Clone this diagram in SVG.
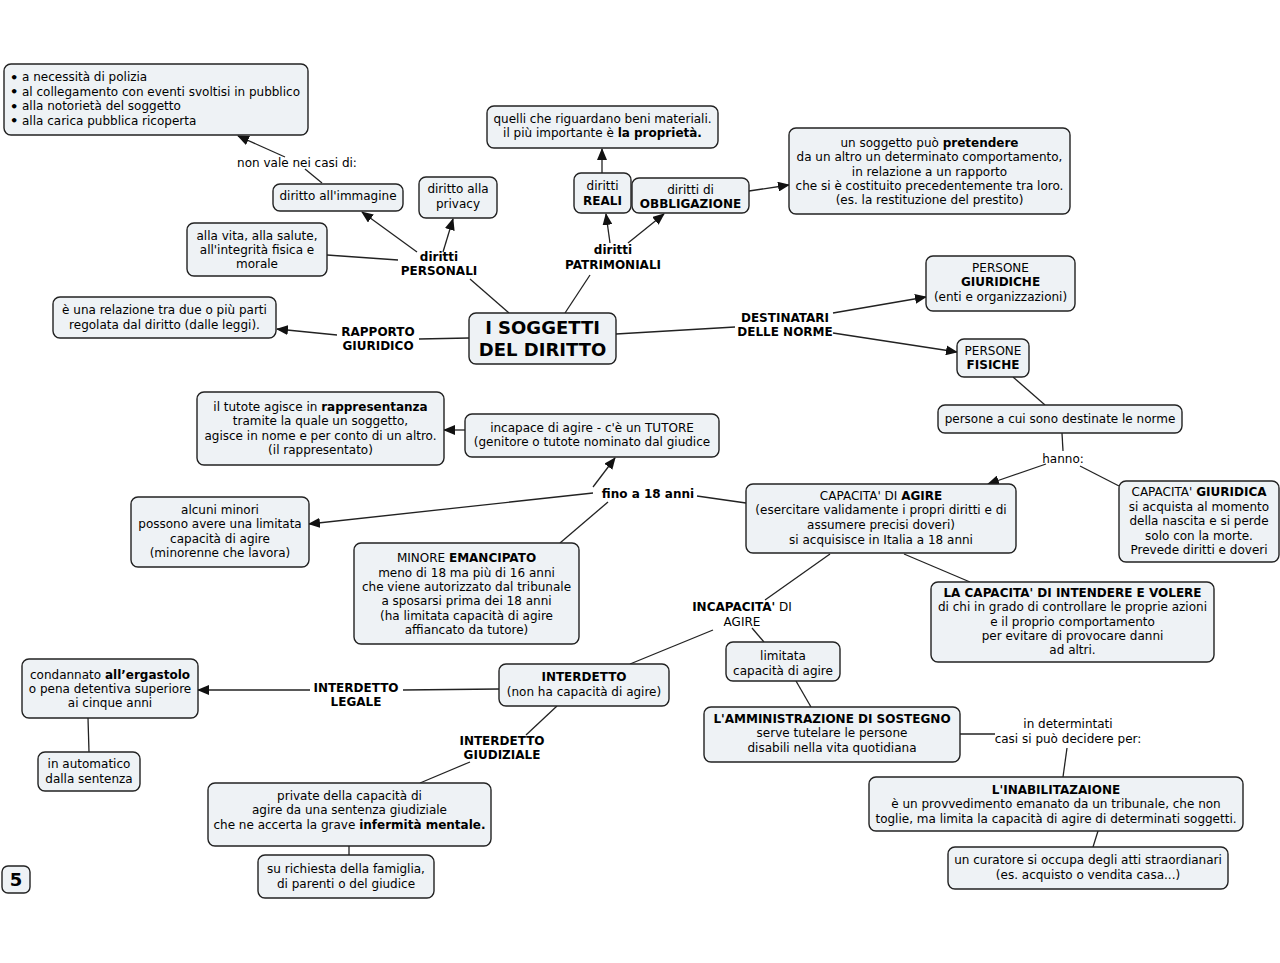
<svg xmlns="http://www.w3.org/2000/svg" width="1280" height="963" viewBox="0 0 1280 963">
<defs>
<marker id="ah" viewBox="0 0 12 10" refX="11" refY="5" markerWidth="12" markerHeight="10" markerUnits="userSpaceOnUse" orient="auto">
<path d="M0,0 L12,5 L0,10 z" fill="#111"/>
</marker>
<style>
text{font-family:"DejaVu Sans","Verdana",sans-serif;font-size:12px;fill:#000}
.c{text-anchor:middle}
.b{font-weight:bold}
.t{font-size:18px;font-weight:bold}
.bul{font-size:13px;font-weight:bold}
rect{fill:#eef2f5;stroke:#222;stroke-width:1.4}
#connectors line{stroke:#222;stroke-width:1.3;fill:none}
.a{marker-end:url(#ah)}
</style>
</defs>
<rect x="0" y="0" width="1280" height="963" style="fill:#fff;stroke:none"/>

<g id="connectors">
<line x1="509" y1="313" x2="470" y2="279"/>
<line x1="398" y1="260" x2="327" y2="255"/>
<line class="a" x1="417" y1="252" x2="362" y2="212"/>
<line class="a" x1="443" y1="252" x2="453" y2="219"/>
<line x1="322" y1="183" x2="305" y2="169"/>
<line class="a" x1="285" y1="157" x2="238" y2="136"/>
<line x1="469" y1="338" x2="419" y2="339"/>
<line class="a" x1="337" y1="335" x2="277" y2="329"/>
<line x1="565" y1="313" x2="590" y2="275"/>
<line class="a" x1="610" y1="243" x2="606" y2="214"/>
<line class="a" x1="628" y1="243" x2="664" y2="214"/>
<line class="a" x1="602" y1="173" x2="602" y2="149"/>
<line class="a" x1="749" y1="191" x2="789" y2="185"/>
<line x1="616" y1="334" x2="735" y2="327"/>
<line class="a" x1="833" y1="313" x2="926" y2="297"/>
<line class="a" x1="833" y1="333" x2="957" y2="352"/>
<line x1="1013" y1="377" x2="1045" y2="405"/>
<line x1="1062" y1="433" x2="1063" y2="451"/>
<line class="a" x1="1046" y1="464" x2="988" y2="484"/>
<line x1="1080" y1="466" x2="1119" y2="486"/>
<line x1="746" y1="503" x2="697" y2="496"/>
<line class="a" x1="593" y1="487" x2="615" y2="458"/>
<line class="a" x1="593" y1="493" x2="309" y2="524"/>
<line x1="608" y1="502" x2="560" y2="543"/>
<line class="a" x1="465" y1="430" x2="444" y2="430"/>
<line x1="830" y1="554" x2="765" y2="600"/>
<line x1="904" y1="554" x2="970" y2="582"/>
<line x1="713" y1="630" x2="630" y2="664"/>
<line x1="752" y1="628" x2="764" y2="642"/>
<line x1="796" y1="681" x2="811" y2="707"/>
<line x1="499" y1="689" x2="403" y2="690"/>
<line class="a" x1="310" y1="690" x2="198" y2="690"/>
<line x1="88" y1="718" x2="89" y2="752"/>
<line x1="557" y1="706" x2="526" y2="735"/>
<line x1="470" y1="762" x2="420" y2="783"/>
<line x1="349" y1="846" x2="349" y2="855"/>
<line x1="960" y1="734" x2="995" y2="734"/>
<line x1="1067" y1="748" x2="1063" y2="777"/>
<line x1="1098" y1="831" x2="1093" y2="847"/>
</g>

<g id="n-casi">
<rect x="4" y="64" width="304" height="71" rx="7"/>
<text class="bul" x="10" y="81.5">•</text><text x="22" y="81">a necessità di polizia</text>
<text class="bul" x="10" y="96">•</text><text x="22" y="95.5">al collegamento con eventi svoltisi in pubblico</text>
<text class="bul" x="10" y="110.5">•</text><text x="22" y="110">alla notorietà del soggetto</text>
<text class="bul" x="10" y="125">•</text><text x="22" y="124.5">alla carica pubblica ricoperta</text>
</g>
<g id="l-nonvale"><text class="c" x="297" y="167">non vale nei casi di:</text></g>
<g id="n-immagine">
<rect x="273" y="184" width="130" height="27" rx="7"/>
<text class="c" x="338" y="200">diritto all'immagine</text>
</g>
<g id="n-privacy">
<rect x="419" y="177" width="78" height="41" rx="7"/>
<text class="c" x="458" y="193">diritto alla</text>
<text class="c" x="458" y="208">privacy</text>
</g>
<g id="n-vita">
<rect x="187" y="223" width="140" height="53" rx="7"/>
<text class="c" x="257" y="240">alla vita, alla salute,</text>
<text class="c" x="257" y="254">all'integrità fisica e</text>
<text class="c" x="257" y="268">morale</text>
</g>
<g id="l-personali">
<text class="c b" x="439" y="261">diritti</text>
<text class="c b" x="439" y="275">PERSONALI</text>
</g>
<g id="n-relazione">
<rect x="53" y="297" width="223" height="41" rx="7"/>
<text class="c" x="164.5" y="314">è una relazione tra due o più parti</text>
<text class="c" x="164.5" y="329">regolata dal diritto (dalle leggi).</text>
</g>
<g id="l-rapporto">
<text class="c b" x="378" y="336">RAPPORTO</text>
<text class="c b" x="378" y="350">GIURIDICO</text>
</g>
<g id="n-centro">
<rect x="469" y="313" width="147" height="51" rx="7"/>
<text class="c t" x="542.5" y="334">I SOGGETTI</text>
<text class="c t" x="542.5" y="356">DEL DIRITTO</text>
</g>
<g id="n-quelli">
<rect x="487" y="106" width="231" height="42" rx="7"/>
<text class="c" x="602.5" y="123">quelli che riguardano beni materiali.</text>
<text class="c" x="602.5" y="137">il più importante è <tspan class="b">la proprietà.</tspan></text>
</g>
<g id="n-reali">
<rect x="574" y="173" width="57" height="40" rx="7"/>
<text class="c" x="602.5" y="190">diritti</text>
<text class="c b" x="602.5" y="205">REALI</text>
</g>
<g id="n-obbligazione">
<rect x="632" y="178" width="117" height="35" rx="7"/>
<text class="c" x="690.5" y="194">diritti di</text>
<text class="c b" x="690.5" y="208">OBBLIGAZIONE</text>
</g>
<g id="l-patrimoniali">
<text class="c b" x="613" y="254">diritti</text>
<text class="c b" x="613" y="269">PATRIMONIALI</text>
</g>
<g id="n-pretendere">
<rect x="789" y="128" width="281" height="86" rx="7"/>
<text class="c" x="929.5" y="147">un soggetto può <tspan class="b">pretendere</tspan></text>
<text class="c" x="929.5" y="161">da un altro un determinato comportamento,</text>
<text class="c" x="929.5" y="175.5">in relazione a un rapporto</text>
<text class="c" x="929.5" y="190">che si è costituito precedentemente tra loro.</text>
<text class="c" x="929.5" y="204">(es. la restituzione del prestito)</text>
</g>
<g id="n-giuridiche">
<rect x="926" y="256" width="149" height="55" rx="7"/>
<text class="c" x="1000.5" y="272">PERSONE</text>
<text class="c b" x="1000.5" y="286">GIURIDICHE</text>
<text class="c" x="1000.5" y="301">(enti e organizzazioni)</text>
</g>
<g id="l-destinatari">
<text class="c b" x="785" y="322">DESTINATARI</text>
<text class="c b" x="785" y="336">DELLE NORME</text>
</g>
<g id="n-fisiche">
<rect x="957" y="339" width="72" height="38" rx="7"/>
<text class="c" x="993" y="355">PERSONE</text>
<text class="c b" x="993" y="369">FISICHE</text>
</g>
<g id="n-personeacui">
<rect x="938" y="405" width="244" height="28" rx="7"/>
<text class="c" x="1060" y="423">persone a cui sono destinate le norme</text>
</g>
<g id="l-hanno"><text class="c" x="1063" y="463">hanno:</text></g>
<g id="n-agire">
<rect x="746" y="484" width="270" height="69" rx="7"/>
<text class="c" x="881" y="500">CAPACITA' DI <tspan class="b">AGIRE</tspan></text>
<text class="c" x="881" y="514">(esercitare validamente i propri diritti e di</text>
<text class="c" x="881" y="529">assumere precisi doveri)</text>
<text class="c" x="881" y="544">si acquisisce in Italia a 18 anni</text>
</g>
<g id="n-giuridica">
<rect x="1119" y="481" width="160" height="81" rx="7"/>
<text class="c" x="1199" y="496">CAPACITA' <tspan class="b">GIURIDICA</tspan></text>
<text class="c" x="1199" y="511">si acquista al momento</text>
<text class="c" x="1199" y="525">della nascita e si perde</text>
<text class="c" x="1199" y="540">solo con la morte.</text>
<text class="c" x="1199" y="554">Prevede diritti e doveri</text>
</g>
<g id="n-intendere">
<rect x="931" y="582" width="283" height="80" rx="7"/>
<text class="c b" x="1072.5" y="597">LA CAPACITA' DI INTENDERE E VOLERE</text>
<text class="c" x="1072.5" y="611">di chi in grado di controllare le proprie azioni</text>
<text class="c" x="1072.5" y="626">e il proprio comportamento</text>
<text class="c" x="1072.5" y="640">per evitare di provocare danni</text>
<text class="c" x="1072.5" y="654">ad altri.</text>
</g>
<g id="n-incapace">
<rect x="465" y="414" width="254" height="43" rx="7"/>
<text class="c" x="592" y="432">incapace di agire - c'è un TUTORE</text>
<text class="c" x="592" y="446">(genitore o tutote nominato dal giudice</text>
</g>
<g id="n-tutote">
<rect x="197" y="392" width="247" height="73" rx="7"/>
<text class="c" x="320.5" y="411">il tutote agisce in <tspan class="b">rappresentanza</tspan></text>
<text class="c" x="320.5" y="425">tramite la quale un soggetto,</text>
<text class="c" x="320.5" y="440">agisce in nome e per conto di un altro.</text>
<text class="c" x="320.5" y="454">(il rappresentato)</text>
</g>
<g id="l-fino"><text class="c b" x="648" y="498">fino a 18 anni</text></g>
<g id="n-minori">
<rect x="131" y="497" width="178" height="70" rx="7"/>
<text class="c" x="220" y="514">alcuni minori</text>
<text class="c" x="220" y="528">possono avere una limitata</text>
<text class="c" x="220" y="543">capacità di agire</text>
<text class="c" x="220" y="557">(minorenne che lavora)</text>
</g>
<g id="n-emancipato">
<rect x="354" y="543" width="225" height="101" rx="7"/>
<text class="c" x="466.5" y="562">MINORE <tspan class="b">EMANCIPATO</tspan></text>
<text class="c" x="466.5" y="577">meno di 18 ma più di 16 anni</text>
<text class="c" x="466.5" y="591">che viene autorizzato dal tribunale</text>
<text class="c" x="466.5" y="605">a sposarsi prima dei 18 anni</text>
<text class="c" x="466.5" y="620">(ha limitata capacità di agire</text>
<text class="c" x="466.5" y="634">affiancato da tutore)</text>
</g>
<g id="l-incapacita">
<text class="c" x="742" y="611"><tspan class="b">INCAPACITA'</tspan> DI</text>
<text class="c" x="742" y="626">AGIRE</text>
</g>
<g id="n-limitata">
<rect x="726" y="642" width="114" height="39" rx="7"/>
<text class="c" x="783" y="660">limitata</text>
<text class="c" x="783" y="675">capacità di agire</text>
</g>
<g id="n-interdetto">
<rect x="499" y="664" width="170" height="42" rx="7"/>
<text class="c b" x="584" y="681">INTERDETTO</text>
<text class="c" x="584" y="696">(non ha capacità di agire)</text>
</g>
<g id="l-legale">
<text class="c b" x="356" y="692">INTERDETTO</text>
<text class="c b" x="356" y="706">LEGALE</text>
</g>
<g id="n-ergastolo">
<rect x="22" y="659" width="176" height="59" rx="7"/>
<text class="c" x="110" y="679">condannato <tspan class="b">all’ergastolo</tspan></text>
<text class="c" x="110" y="693">o pena detentiva superiore</text>
<text class="c" x="110" y="707">ai cinque anni</text>
</g>
<g id="n-automatico">
<rect x="38" y="752" width="102" height="39" rx="7"/>
<text class="c" x="89" y="768">in automatico</text>
<text class="c" x="89" y="783">dalla sentenza</text>
</g>
<g id="l-giudiziale">
<text class="c b" x="502" y="745">INTERDETTO</text>
<text class="c b" x="502" y="759">GIUDIZIALE</text>
</g>
<g id="n-private">
<rect x="208" y="783" width="283" height="63" rx="7"/>
<text class="c" x="349.5" y="800">private della capacità di</text>
<text class="c" x="349.5" y="814">agire da una sentenza giudiziale</text>
<text class="c" x="349.5" y="829">che ne accerta la grave <tspan class="b">infermità mentale.</tspan></text>
</g>
<g id="n-richiesta">
<rect x="258" y="855" width="176" height="43" rx="7"/>
<text class="c" x="346" y="873">su richiesta della famiglia,</text>
<text class="c" x="346" y="888">di parenti o del giudice</text>
</g>
<g id="n-amministrazione">
<rect x="704" y="707" width="256" height="55" rx="7"/>
<text class="c b" x="832" y="723">L'AMMINISTRAZIONE DI SOSTEGNO</text>
<text class="c" x="832" y="737">serve tutelare le persone</text>
<text class="c" x="832" y="752">disabili nella vita quotidiana</text>
</g>
<g id="l-determintati">
<text class="c" x="1068" y="728">in determintati</text>
<text class="c" x="1068" y="743">casi si può decidere per:</text>
</g>
<g id="n-inabilitazaione">
<rect x="869" y="777" width="374" height="54" rx="7"/>
<text class="c b" x="1056" y="794">L'INABILITAZAIONE</text>
<text class="c" x="1056" y="808">è un provvedimento emanato da un tribunale, che non</text>
<text class="c" x="1056" y="823">toglie, ma limita la capacità di agire di determinati soggetti.</text>
</g>
<g id="n-curatore">
<rect x="948" y="847" width="280" height="42" rx="7"/>
<text class="c" x="1088" y="864">un curatore si occupa degli atti straordianari</text>
<text class="c" x="1088" y="879">(es. acquisto o vendita casa...)</text>
</g>
<g id="n-5">
<rect x="2" y="866" width="28" height="27" rx="6"/>
<text class="c t" x="16" y="886">5</text>
</g>
</svg>
